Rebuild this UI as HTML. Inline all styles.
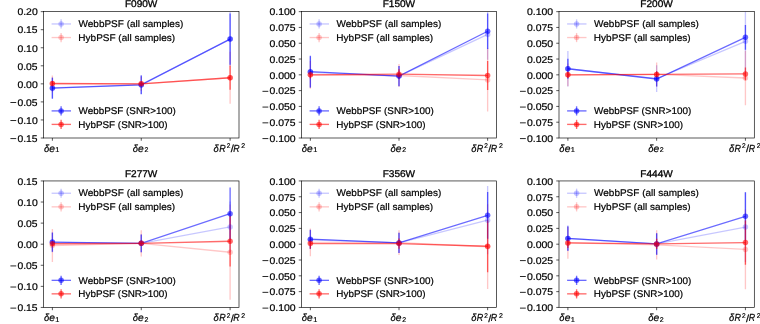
<!DOCTYPE html>
<html><head><meta charset="utf-8"><style>
html,body{margin:0;padding:0;background:#fff;}
#w{will-change:transform;width:760px;height:324px;background:#fff;}
svg{display:block;}
text{font-family:"Liberation Sans",sans-serif;fill:#000;text-rendering:geometricPrecision;stroke:#000;stroke-width:0.2px;}
.tk{stroke:#000;stroke-width:0.65;}
</style></head><body>
<div id="w"><svg width="760" height="324" viewBox="0 0 760 324">
<rect width="760" height="324" fill="#fff"/>
<g>
<text x="124.94" y="6.90" font-size="9.7" textLength="32.44" lengthAdjust="spacingAndGlyphs" style="stroke-width:0.3px">F090W</text>
<line x1="40.75" y1="11.65" x2="43.50" y2="11.65" class="tk"/>
<text x="17.40" y="15.43" font-size="9.7" textLength="20.29" lengthAdjust="spacingAndGlyphs">0.20</text>
<line x1="40.75" y1="29.70" x2="43.50" y2="29.70" class="tk"/>
<text x="17.40" y="33.48" font-size="9.7" textLength="20.12" lengthAdjust="spacingAndGlyphs">0.15</text>
<line x1="40.75" y1="47.75" x2="43.50" y2="47.75" class="tk"/>
<text x="17.40" y="51.53" font-size="9.7" textLength="20.29" lengthAdjust="spacingAndGlyphs">0.10</text>
<line x1="40.75" y1="65.80" x2="43.50" y2="65.80" class="tk"/>
<text x="17.40" y="69.58" font-size="9.7" textLength="20.12" lengthAdjust="spacingAndGlyphs">0.05</text>
<line x1="40.75" y1="83.85" x2="43.50" y2="83.85" class="tk"/>
<text x="17.40" y="87.63" font-size="9.7" textLength="20.29" lengthAdjust="spacingAndGlyphs">0.00</text>
<line x1="40.75" y1="101.90" x2="43.50" y2="101.90" class="tk"/>
<rect x="10.39" y="102.13" width="5.82" height="0.84" fill="#000"/>
<text x="17.40" y="105.68" font-size="9.7" textLength="20.12" lengthAdjust="spacingAndGlyphs">0.05</text>
<line x1="40.75" y1="119.95" x2="43.50" y2="119.95" class="tk"/>
<rect x="10.39" y="120.18" width="5.82" height="0.84" fill="#000"/>
<text x="17.40" y="123.73" font-size="9.7" textLength="20.29" lengthAdjust="spacingAndGlyphs">0.10</text>
<line x1="40.75" y1="138.00" x2="43.50" y2="138.00" class="tk"/>
<rect x="10.39" y="138.23" width="5.82" height="0.84" fill="#000"/>
<text x="17.40" y="141.78" font-size="9.7" textLength="20.12" lengthAdjust="spacingAndGlyphs">0.15</text>
<line x1="52.39" y1="138.00" x2="52.39" y2="140.75" class="tk"/>
<line x1="141.25" y1="138.00" x2="141.25" y2="140.75" class="tk"/>
<line x1="230.11" y1="138.00" x2="230.11" y2="140.75" class="tk"/>
<text x="43.88" y="151.60" font-size="10.30" font-style="italic" textLength="5.22" lengthAdjust="spacingAndGlyphs">δ</text>
<text x="49.14" y="151.60" font-size="10.30" font-style="italic" textLength="5.73" lengthAdjust="spacingAndGlyphs">e</text>
<text x="55.32" y="152.40" font-size="7.00" textLength="4.13" lengthAdjust="spacingAndGlyphs">1</text>
<text x="132.74" y="151.60" font-size="10.30" font-style="italic" textLength="5.22" lengthAdjust="spacingAndGlyphs">δ</text>
<text x="138.00" y="151.60" font-size="10.30" font-style="italic" textLength="5.73" lengthAdjust="spacingAndGlyphs">e</text>
<text x="144.40" y="152.40" font-size="7.00" textLength="3.91" lengthAdjust="spacingAndGlyphs">2</text>
<text x="213.61" y="152.00" font-size="10.30" font-style="italic" textLength="5.22" lengthAdjust="spacingAndGlyphs">δ</text>
<text x="219.14" y="152.00" font-size="10.30" font-style="italic" textLength="6.45" lengthAdjust="spacingAndGlyphs">R</text>
<text x="226.68" y="148.40" font-size="7.00" textLength="3.66" lengthAdjust="spacingAndGlyphs">2</text>
<text x="230.81" y="152.40" font-size="10.30" textLength="3.10" lengthAdjust="spacingAndGlyphs">/</text>
<text x="233.34" y="152.00" font-size="10.30" font-style="italic" textLength="6.34" lengthAdjust="spacingAndGlyphs">R</text>
<text x="241.36" y="148.40" font-size="7.00" textLength="3.91" lengthAdjust="spacingAndGlyphs">2</text>
<svg x="43.5" y="11.65" width="195.5" height="126.35" overflow="hidden"><g transform="translate(-43.5,-11.65)">
<line x1="52.39" y1="77.35" x2="52.39" y2="98.29" stroke="#0000ff" stroke-opacity="0.22" stroke-width="1.35"/>
<line x1="141.25" y1="75.19" x2="141.25" y2="93.96" stroke="#0000ff" stroke-opacity="0.22" stroke-width="1.35"/>
<line x1="230.11" y1="12.01" x2="230.11" y2="66.16" stroke="#0000ff" stroke-opacity="0.22" stroke-width="1.35"/>
<line x1="52.39" y1="75.55" x2="52.39" y2="92.15" stroke="#ff0000" stroke-opacity="0.22" stroke-width="1.35"/>
<line x1="141.25" y1="76.63" x2="141.25" y2="91.07" stroke="#ff0000" stroke-opacity="0.22" stroke-width="1.35"/>
<line x1="230.11" y1="51.72" x2="230.11" y2="103.71" stroke="#ff0000" stroke-opacity="0.22" stroke-width="1.35"/>
<line x1="52.39" y1="77.71" x2="52.39" y2="98.65" stroke="#0000ff" stroke-opacity="0.58" stroke-width="1.35"/>
<line x1="141.25" y1="75.55" x2="141.25" y2="94.32" stroke="#0000ff" stroke-opacity="0.58" stroke-width="1.35"/>
<line x1="230.11" y1="13.46" x2="230.11" y2="64.72" stroke="#0000ff" stroke-opacity="0.58" stroke-width="1.35"/>
<line x1="52.39" y1="81.32" x2="52.39" y2="85.66" stroke="#ff0000" stroke-opacity="0.58" stroke-width="1.35"/>
<line x1="141.25" y1="81.68" x2="141.25" y2="86.02" stroke="#ff0000" stroke-opacity="0.58" stroke-width="1.35"/>
<line x1="230.11" y1="65.80" x2="230.11" y2="89.63" stroke="#ff0000" stroke-opacity="0.58" stroke-width="1.35"/>
<polyline points="52.39,87.82 141.25,84.57 230.11,39.09" fill="none" stroke="#0000ff" stroke-opacity="0.22" stroke-width="1.35"/>
<circle cx="52.39" cy="87.82" r="2.75" fill="#0000ff" fill-opacity="0.22"/>
<circle cx="141.25" cy="84.57" r="2.75" fill="#0000ff" fill-opacity="0.22"/>
<circle cx="230.11" cy="39.09" r="2.75" fill="#0000ff" fill-opacity="0.22"/>
<polyline points="52.39,83.85 141.25,83.85 230.11,77.71" fill="none" stroke="#ff0000" stroke-opacity="0.22" stroke-width="1.35"/>
<circle cx="52.39" cy="83.85" r="2.75" fill="#ff0000" fill-opacity="0.22"/>
<circle cx="141.25" cy="83.85" r="2.75" fill="#ff0000" fill-opacity="0.22"/>
<circle cx="230.11" cy="77.71" r="2.75" fill="#ff0000" fill-opacity="0.22"/>
<polyline points="52.39,88.18 141.25,84.93 230.11,39.09" fill="none" stroke="#0000ff" stroke-opacity="0.58" stroke-width="1.35"/>
<circle cx="52.39" cy="88.18" r="2.75" fill="#0000ff" fill-opacity="0.58"/>
<circle cx="141.25" cy="84.93" r="2.75" fill="#0000ff" fill-opacity="0.58"/>
<circle cx="230.11" cy="39.09" r="2.75" fill="#0000ff" fill-opacity="0.58"/>
<polyline points="52.39,83.49 141.25,83.85 230.11,77.71" fill="none" stroke="#ff0000" stroke-opacity="0.58" stroke-width="1.35"/>
<circle cx="52.39" cy="83.49" r="2.75" fill="#ff0000" fill-opacity="0.58"/>
<circle cx="141.25" cy="83.85" r="2.75" fill="#ff0000" fill-opacity="0.58"/>
<circle cx="230.11" cy="77.71" r="2.75" fill="#ff0000" fill-opacity="0.58"/>
</g></svg>
<line x1="51.60" y1="23.95" x2="71.00" y2="23.95" stroke="#0000ff" stroke-opacity="0.22" stroke-width="1.35"/>
<line x1="61.10" y1="19.35" x2="61.10" y2="28.55" stroke="#0000ff" stroke-opacity="0.22" stroke-width="1.35"/>
<circle cx="61.10" cy="23.95" r="2.75" fill="#0000ff" fill-opacity="0.22"/>
<text x="78.56" y="27.15" font-size="9.7" textLength="104.70" lengthAdjust="spacingAndGlyphs">WebbPSF (all samples)</text>
<line x1="51.60" y1="37.55" x2="71.00" y2="37.55" stroke="#ff0000" stroke-opacity="0.22" stroke-width="1.35"/>
<line x1="61.10" y1="32.95" x2="61.10" y2="42.15" stroke="#ff0000" stroke-opacity="0.22" stroke-width="1.35"/>
<circle cx="61.10" cy="37.55" r="2.75" fill="#ff0000" fill-opacity="0.22"/>
<text x="78.38" y="40.75" font-size="9.7" textLength="96.65" lengthAdjust="spacingAndGlyphs">HybPSF (all samples)</text>
<line x1="51.60" y1="110.90" x2="71.00" y2="110.90" stroke="#0000ff" stroke-opacity="0.58" stroke-width="1.35"/>
<line x1="61.10" y1="106.30" x2="61.10" y2="115.50" stroke="#0000ff" stroke-opacity="0.58" stroke-width="1.35"/>
<circle cx="61.10" cy="110.90" r="2.75" fill="#0000ff" fill-opacity="0.58"/>
<text x="78.56" y="114.10" font-size="9.7" textLength="97.16" lengthAdjust="spacingAndGlyphs">WebbPSF (SNR&gt;100)</text>
<line x1="51.60" y1="124.40" x2="71.00" y2="124.40" stroke="#ff0000" stroke-opacity="0.58" stroke-width="1.35"/>
<line x1="61.10" y1="119.80" x2="61.10" y2="129.00" stroke="#ff0000" stroke-opacity="0.58" stroke-width="1.35"/>
<circle cx="61.10" cy="124.40" r="2.75" fill="#ff0000" fill-opacity="0.58"/>
<text x="78.39" y="127.60" font-size="9.7" textLength="89.10" lengthAdjust="spacingAndGlyphs">HybPSF (SNR&gt;100)</text>
<rect x="43.50" y="11.65" width="195.50" height="126.35" fill="none" stroke="#000" stroke-width="0.65"/>
</g>
<g>
<text x="382.69" y="6.90" font-size="9.7" textLength="32.44" lengthAdjust="spacingAndGlyphs" style="stroke-width:0.3px">F150W</text>
<line x1="298.75" y1="11.65" x2="301.50" y2="11.65" class="tk"/>
<text x="269.48" y="15.43" font-size="9.7" textLength="26.21" lengthAdjust="spacingAndGlyphs">0.100</text>
<line x1="298.75" y1="27.44" x2="301.50" y2="27.44" class="tk"/>
<text x="269.48" y="31.22" font-size="9.7" textLength="26.04" lengthAdjust="spacingAndGlyphs">0.075</text>
<line x1="298.75" y1="43.24" x2="301.50" y2="43.24" class="tk"/>
<text x="269.48" y="47.02" font-size="9.7" textLength="26.21" lengthAdjust="spacingAndGlyphs">0.050</text>
<line x1="298.75" y1="59.03" x2="301.50" y2="59.03" class="tk"/>
<text x="269.48" y="62.81" font-size="9.7" textLength="26.04" lengthAdjust="spacingAndGlyphs">0.025</text>
<line x1="298.75" y1="74.83" x2="301.50" y2="74.83" class="tk"/>
<text x="269.48" y="78.61" font-size="9.7" textLength="26.21" lengthAdjust="spacingAndGlyphs">0.000</text>
<line x1="298.75" y1="90.62" x2="301.50" y2="90.62" class="tk"/>
<rect x="262.47" y="90.85" width="5.82" height="0.84" fill="#000"/>
<text x="269.48" y="94.40" font-size="9.7" textLength="26.04" lengthAdjust="spacingAndGlyphs">0.025</text>
<line x1="298.75" y1="106.41" x2="301.50" y2="106.41" class="tk"/>
<rect x="262.47" y="106.64" width="5.82" height="0.84" fill="#000"/>
<text x="269.48" y="110.19" font-size="9.7" textLength="26.21" lengthAdjust="spacingAndGlyphs">0.050</text>
<line x1="298.75" y1="122.21" x2="301.50" y2="122.21" class="tk"/>
<rect x="262.47" y="122.44" width="5.82" height="0.84" fill="#000"/>
<text x="269.48" y="125.99" font-size="9.7" textLength="26.04" lengthAdjust="spacingAndGlyphs">0.075</text>
<line x1="298.75" y1="138.00" x2="301.50" y2="138.00" class="tk"/>
<rect x="262.47" y="138.23" width="5.82" height="0.84" fill="#000"/>
<text x="269.48" y="141.78" font-size="9.7" textLength="26.21" lengthAdjust="spacingAndGlyphs">0.100</text>
<line x1="310.36" y1="138.00" x2="310.36" y2="140.75" class="tk"/>
<line x1="399.00" y1="138.00" x2="399.00" y2="140.75" class="tk"/>
<line x1="487.64" y1="138.00" x2="487.64" y2="140.75" class="tk"/>
<text x="301.86" y="151.60" font-size="10.30" font-style="italic" textLength="5.22" lengthAdjust="spacingAndGlyphs">δ</text>
<text x="307.12" y="151.60" font-size="10.30" font-style="italic" textLength="5.73" lengthAdjust="spacingAndGlyphs">e</text>
<text x="313.30" y="152.40" font-size="7.00" textLength="4.13" lengthAdjust="spacingAndGlyphs">1</text>
<text x="390.49" y="151.60" font-size="10.30" font-style="italic" textLength="5.22" lengthAdjust="spacingAndGlyphs">δ</text>
<text x="395.75" y="151.60" font-size="10.30" font-style="italic" textLength="5.73" lengthAdjust="spacingAndGlyphs">e</text>
<text x="402.15" y="152.40" font-size="7.00" textLength="3.91" lengthAdjust="spacingAndGlyphs">2</text>
<text x="471.13" y="152.00" font-size="10.30" font-style="italic" textLength="5.22" lengthAdjust="spacingAndGlyphs">δ</text>
<text x="476.66" y="152.00" font-size="10.30" font-style="italic" textLength="6.45" lengthAdjust="spacingAndGlyphs">R</text>
<text x="484.21" y="148.40" font-size="7.00" textLength="3.66" lengthAdjust="spacingAndGlyphs">2</text>
<text x="488.34" y="152.40" font-size="10.30" textLength="3.10" lengthAdjust="spacingAndGlyphs">/</text>
<text x="490.87" y="152.00" font-size="10.30" font-style="italic" textLength="6.34" lengthAdjust="spacingAndGlyphs">R</text>
<text x="498.88" y="148.40" font-size="7.00" textLength="3.91" lengthAdjust="spacingAndGlyphs">2</text>
<svg x="301.5" y="11.65" width="195.0" height="126.35" overflow="hidden"><g transform="translate(-301.5,-11.65)">
<line x1="310.36" y1="56.50" x2="310.36" y2="88.09" stroke="#0000ff" stroke-opacity="0.22" stroke-width="1.35"/>
<line x1="399.00" y1="65.98" x2="399.00" y2="86.20" stroke="#0000ff" stroke-opacity="0.22" stroke-width="1.35"/>
<line x1="487.64" y1="9.12" x2="487.64" y2="59.66" stroke="#0000ff" stroke-opacity="0.22" stroke-width="1.35"/>
<line x1="310.36" y1="60.93" x2="310.36" y2="88.72" stroke="#ff0000" stroke-opacity="0.22" stroke-width="1.35"/>
<line x1="399.00" y1="64.09" x2="399.00" y2="86.83" stroke="#ff0000" stroke-opacity="0.22" stroke-width="1.35"/>
<line x1="487.64" y1="48.29" x2="487.64" y2="111.47" stroke="#ff0000" stroke-opacity="0.22" stroke-width="1.35"/>
<line x1="310.36" y1="55.87" x2="310.36" y2="87.46" stroke="#0000ff" stroke-opacity="0.58" stroke-width="1.35"/>
<line x1="399.00" y1="65.98" x2="399.00" y2="86.20" stroke="#0000ff" stroke-opacity="0.58" stroke-width="1.35"/>
<line x1="487.64" y1="13.55" x2="487.64" y2="48.92" stroke="#0000ff" stroke-opacity="0.58" stroke-width="1.35"/>
<line x1="310.36" y1="71.03" x2="310.36" y2="78.62" stroke="#ff0000" stroke-opacity="0.58" stroke-width="1.35"/>
<line x1="399.00" y1="69.14" x2="399.00" y2="79.25" stroke="#ff0000" stroke-opacity="0.58" stroke-width="1.35"/>
<line x1="487.64" y1="60.93" x2="487.64" y2="89.99" stroke="#ff0000" stroke-opacity="0.58" stroke-width="1.35"/>
<polyline points="310.36,72.30 399.00,76.09 487.64,34.39" fill="none" stroke="#0000ff" stroke-opacity="0.22" stroke-width="1.35"/>
<circle cx="310.36" cy="72.30" r="2.75" fill="#0000ff" fill-opacity="0.22"/>
<circle cx="399.00" cy="76.09" r="2.75" fill="#0000ff" fill-opacity="0.22"/>
<circle cx="487.64" cy="34.39" r="2.75" fill="#0000ff" fill-opacity="0.22"/>
<polyline points="310.36,74.83 399.00,75.46 487.64,79.88" fill="none" stroke="#ff0000" stroke-opacity="0.22" stroke-width="1.35"/>
<circle cx="310.36" cy="74.83" r="2.75" fill="#ff0000" fill-opacity="0.22"/>
<circle cx="399.00" cy="75.46" r="2.75" fill="#ff0000" fill-opacity="0.22"/>
<circle cx="487.64" cy="79.88" r="2.75" fill="#ff0000" fill-opacity="0.22"/>
<polyline points="310.36,71.67 399.00,76.09 487.64,31.23" fill="none" stroke="#0000ff" stroke-opacity="0.58" stroke-width="1.35"/>
<circle cx="310.36" cy="71.67" r="2.75" fill="#0000ff" fill-opacity="0.58"/>
<circle cx="399.00" cy="76.09" r="2.75" fill="#0000ff" fill-opacity="0.58"/>
<circle cx="487.64" cy="31.23" r="2.75" fill="#0000ff" fill-opacity="0.58"/>
<polyline points="310.36,74.83 399.00,74.19 487.64,75.46" fill="none" stroke="#ff0000" stroke-opacity="0.58" stroke-width="1.35"/>
<circle cx="310.36" cy="74.83" r="2.75" fill="#ff0000" fill-opacity="0.58"/>
<circle cx="399.00" cy="74.19" r="2.75" fill="#ff0000" fill-opacity="0.58"/>
<circle cx="487.64" cy="75.46" r="2.75" fill="#ff0000" fill-opacity="0.58"/>
</g></svg>
<line x1="309.60" y1="23.95" x2="329.00" y2="23.95" stroke="#0000ff" stroke-opacity="0.22" stroke-width="1.35"/>
<line x1="319.10" y1="19.35" x2="319.10" y2="28.55" stroke="#0000ff" stroke-opacity="0.22" stroke-width="1.35"/>
<circle cx="319.10" cy="23.95" r="2.75" fill="#0000ff" fill-opacity="0.22"/>
<text x="336.56" y="27.15" font-size="9.7" textLength="104.70" lengthAdjust="spacingAndGlyphs">WebbPSF (all samples)</text>
<line x1="309.60" y1="37.55" x2="329.00" y2="37.55" stroke="#ff0000" stroke-opacity="0.22" stroke-width="1.35"/>
<line x1="319.10" y1="32.95" x2="319.10" y2="42.15" stroke="#ff0000" stroke-opacity="0.22" stroke-width="1.35"/>
<circle cx="319.10" cy="37.55" r="2.75" fill="#ff0000" fill-opacity="0.22"/>
<text x="336.38" y="40.75" font-size="9.7" textLength="96.65" lengthAdjust="spacingAndGlyphs">HybPSF (all samples)</text>
<line x1="309.60" y1="110.90" x2="329.00" y2="110.90" stroke="#0000ff" stroke-opacity="0.58" stroke-width="1.35"/>
<line x1="319.10" y1="106.30" x2="319.10" y2="115.50" stroke="#0000ff" stroke-opacity="0.58" stroke-width="1.35"/>
<circle cx="319.10" cy="110.90" r="2.75" fill="#0000ff" fill-opacity="0.58"/>
<text x="336.56" y="114.10" font-size="9.7" textLength="97.16" lengthAdjust="spacingAndGlyphs">WebbPSF (SNR&gt;100)</text>
<line x1="309.60" y1="124.40" x2="329.00" y2="124.40" stroke="#ff0000" stroke-opacity="0.58" stroke-width="1.35"/>
<line x1="319.10" y1="119.80" x2="319.10" y2="129.00" stroke="#ff0000" stroke-opacity="0.58" stroke-width="1.35"/>
<circle cx="319.10" cy="124.40" r="2.75" fill="#ff0000" fill-opacity="0.58"/>
<text x="336.39" y="127.60" font-size="9.7" textLength="89.10" lengthAdjust="spacingAndGlyphs">HybPSF (SNR&gt;100)</text>
<rect x="301.50" y="11.65" width="195.00" height="126.35" fill="none" stroke="#000" stroke-width="0.65"/>
</g>
<g>
<text x="640.34" y="6.90" font-size="9.7" textLength="32.44" lengthAdjust="spacingAndGlyphs" style="stroke-width:0.3px">F200W</text>
<line x1="556.25" y1="11.65" x2="559.00" y2="11.65" class="tk"/>
<text x="526.98" y="15.43" font-size="9.7" textLength="26.21" lengthAdjust="spacingAndGlyphs">0.100</text>
<line x1="556.25" y1="27.44" x2="559.00" y2="27.44" class="tk"/>
<text x="526.98" y="31.22" font-size="9.7" textLength="26.04" lengthAdjust="spacingAndGlyphs">0.075</text>
<line x1="556.25" y1="43.24" x2="559.00" y2="43.24" class="tk"/>
<text x="526.98" y="47.02" font-size="9.7" textLength="26.21" lengthAdjust="spacingAndGlyphs">0.050</text>
<line x1="556.25" y1="59.03" x2="559.00" y2="59.03" class="tk"/>
<text x="526.98" y="62.81" font-size="9.7" textLength="26.04" lengthAdjust="spacingAndGlyphs">0.025</text>
<line x1="556.25" y1="74.83" x2="559.00" y2="74.83" class="tk"/>
<text x="526.98" y="78.61" font-size="9.7" textLength="26.21" lengthAdjust="spacingAndGlyphs">0.000</text>
<line x1="556.25" y1="90.62" x2="559.00" y2="90.62" class="tk"/>
<rect x="519.97" y="90.85" width="5.82" height="0.84" fill="#000"/>
<text x="526.98" y="94.40" font-size="9.7" textLength="26.04" lengthAdjust="spacingAndGlyphs">0.025</text>
<line x1="556.25" y1="106.41" x2="559.00" y2="106.41" class="tk"/>
<rect x="519.97" y="106.64" width="5.82" height="0.84" fill="#000"/>
<text x="526.98" y="110.19" font-size="9.7" textLength="26.21" lengthAdjust="spacingAndGlyphs">0.050</text>
<line x1="556.25" y1="122.21" x2="559.00" y2="122.21" class="tk"/>
<rect x="519.97" y="122.44" width="5.82" height="0.84" fill="#000"/>
<text x="526.98" y="125.99" font-size="9.7" textLength="26.04" lengthAdjust="spacingAndGlyphs">0.075</text>
<line x1="556.25" y1="138.00" x2="559.00" y2="138.00" class="tk"/>
<rect x="519.97" y="138.23" width="5.82" height="0.84" fill="#000"/>
<text x="526.98" y="141.78" font-size="9.7" textLength="26.21" lengthAdjust="spacingAndGlyphs">0.100</text>
<line x1="567.88" y1="138.00" x2="567.88" y2="140.75" class="tk"/>
<line x1="656.65" y1="138.00" x2="656.65" y2="140.75" class="tk"/>
<line x1="745.42" y1="138.00" x2="745.42" y2="140.75" class="tk"/>
<text x="559.37" y="151.60" font-size="10.30" font-style="italic" textLength="5.22" lengthAdjust="spacingAndGlyphs">δ</text>
<text x="564.63" y="151.60" font-size="10.30" font-style="italic" textLength="5.73" lengthAdjust="spacingAndGlyphs">e</text>
<text x="570.81" y="152.40" font-size="7.00" textLength="4.13" lengthAdjust="spacingAndGlyphs">1</text>
<text x="648.14" y="151.60" font-size="10.30" font-style="italic" textLength="5.22" lengthAdjust="spacingAndGlyphs">δ</text>
<text x="653.40" y="151.60" font-size="10.30" font-style="italic" textLength="5.73" lengthAdjust="spacingAndGlyphs">e</text>
<text x="659.80" y="152.40" font-size="7.00" textLength="3.91" lengthAdjust="spacingAndGlyphs">2</text>
<text x="728.92" y="152.00" font-size="10.30" font-style="italic" textLength="5.22" lengthAdjust="spacingAndGlyphs">δ</text>
<text x="734.45" y="152.00" font-size="10.30" font-style="italic" textLength="6.45" lengthAdjust="spacingAndGlyphs">R</text>
<text x="741.99" y="148.40" font-size="7.00" textLength="3.66" lengthAdjust="spacingAndGlyphs">2</text>
<text x="746.12" y="152.40" font-size="10.30" textLength="3.10" lengthAdjust="spacingAndGlyphs">/</text>
<text x="748.65" y="152.00" font-size="10.30" font-style="italic" textLength="6.34" lengthAdjust="spacingAndGlyphs">R</text>
<text x="756.67" y="148.40" font-size="7.00" textLength="3.91" lengthAdjust="spacingAndGlyphs">2</text>
<svg x="559.0" y="11.65" width="195.29999999999995" height="126.35" overflow="hidden"><g transform="translate(-559.0,-11.65)">
<line x1="567.88" y1="51.07" x2="567.88" y2="86.45" stroke="#0000ff" stroke-opacity="0.22" stroke-width="1.35"/>
<line x1="656.65" y1="65.35" x2="656.65" y2="91.88" stroke="#0000ff" stroke-opacity="0.22" stroke-width="1.35"/>
<line x1="745.42" y1="9.75" x2="745.42" y2="72.93" stroke="#0000ff" stroke-opacity="0.22" stroke-width="1.35"/>
<line x1="567.88" y1="63.45" x2="567.88" y2="86.20" stroke="#ff0000" stroke-opacity="0.22" stroke-width="1.35"/>
<line x1="656.65" y1="62.38" x2="656.65" y2="86.39" stroke="#ff0000" stroke-opacity="0.22" stroke-width="1.35"/>
<line x1="745.42" y1="50.82" x2="745.42" y2="105.15" stroke="#ff0000" stroke-opacity="0.22" stroke-width="1.35"/>
<line x1="567.88" y1="58.65" x2="567.88" y2="78.87" stroke="#0000ff" stroke-opacity="0.58" stroke-width="1.35"/>
<line x1="656.65" y1="71.41" x2="656.65" y2="86.58" stroke="#0000ff" stroke-opacity="0.58" stroke-width="1.35"/>
<line x1="745.42" y1="24.92" x2="745.42" y2="49.68" stroke="#0000ff" stroke-opacity="0.58" stroke-width="1.35"/>
<line x1="567.88" y1="71.67" x2="567.88" y2="77.98" stroke="#ff0000" stroke-opacity="0.58" stroke-width="1.35"/>
<line x1="656.65" y1="71.22" x2="656.65" y2="77.54" stroke="#ff0000" stroke-opacity="0.58" stroke-width="1.35"/>
<line x1="745.42" y1="67.56" x2="745.42" y2="80.19" stroke="#ff0000" stroke-opacity="0.58" stroke-width="1.35"/>
<polyline points="567.88,68.76 656.65,78.62 745.42,41.34" fill="none" stroke="#0000ff" stroke-opacity="0.22" stroke-width="1.35"/>
<circle cx="567.88" cy="68.76" r="2.75" fill="#0000ff" fill-opacity="0.22"/>
<circle cx="656.65" cy="78.62" r="2.75" fill="#0000ff" fill-opacity="0.22"/>
<circle cx="745.42" cy="41.34" r="2.75" fill="#0000ff" fill-opacity="0.22"/>
<polyline points="567.88,74.83 656.65,74.38 745.42,77.98" fill="none" stroke="#ff0000" stroke-opacity="0.22" stroke-width="1.35"/>
<circle cx="567.88" cy="74.83" r="2.75" fill="#ff0000" fill-opacity="0.22"/>
<circle cx="656.65" cy="74.38" r="2.75" fill="#ff0000" fill-opacity="0.22"/>
<circle cx="745.42" cy="77.98" r="2.75" fill="#ff0000" fill-opacity="0.22"/>
<polyline points="567.88,68.76 656.65,78.99 745.42,37.30" fill="none" stroke="#0000ff" stroke-opacity="0.58" stroke-width="1.35"/>
<circle cx="567.88" cy="68.76" r="2.75" fill="#0000ff" fill-opacity="0.58"/>
<circle cx="656.65" cy="78.99" r="2.75" fill="#0000ff" fill-opacity="0.58"/>
<circle cx="745.42" cy="37.30" r="2.75" fill="#0000ff" fill-opacity="0.58"/>
<polyline points="567.88,74.83 656.65,74.38 745.42,73.88" fill="none" stroke="#ff0000" stroke-opacity="0.58" stroke-width="1.35"/>
<circle cx="567.88" cy="74.83" r="2.75" fill="#ff0000" fill-opacity="0.58"/>
<circle cx="656.65" cy="74.38" r="2.75" fill="#ff0000" fill-opacity="0.58"/>
<circle cx="745.42" cy="73.88" r="2.75" fill="#ff0000" fill-opacity="0.58"/>
</g></svg>
<line x1="567.10" y1="23.95" x2="586.50" y2="23.95" stroke="#0000ff" stroke-opacity="0.22" stroke-width="1.35"/>
<line x1="576.60" y1="19.35" x2="576.60" y2="28.55" stroke="#0000ff" stroke-opacity="0.22" stroke-width="1.35"/>
<circle cx="576.60" cy="23.95" r="2.75" fill="#0000ff" fill-opacity="0.22"/>
<text x="594.06" y="27.15" font-size="9.7" textLength="104.70" lengthAdjust="spacingAndGlyphs">WebbPSF (all samples)</text>
<line x1="567.10" y1="37.55" x2="586.50" y2="37.55" stroke="#ff0000" stroke-opacity="0.22" stroke-width="1.35"/>
<line x1="576.60" y1="32.95" x2="576.60" y2="42.15" stroke="#ff0000" stroke-opacity="0.22" stroke-width="1.35"/>
<circle cx="576.60" cy="37.55" r="2.75" fill="#ff0000" fill-opacity="0.22"/>
<text x="593.88" y="40.75" font-size="9.7" textLength="96.65" lengthAdjust="spacingAndGlyphs">HybPSF (all samples)</text>
<line x1="567.10" y1="110.90" x2="586.50" y2="110.90" stroke="#0000ff" stroke-opacity="0.58" stroke-width="1.35"/>
<line x1="576.60" y1="106.30" x2="576.60" y2="115.50" stroke="#0000ff" stroke-opacity="0.58" stroke-width="1.35"/>
<circle cx="576.60" cy="110.90" r="2.75" fill="#0000ff" fill-opacity="0.58"/>
<text x="594.06" y="114.10" font-size="9.7" textLength="97.16" lengthAdjust="spacingAndGlyphs">WebbPSF (SNR&gt;100)</text>
<line x1="567.10" y1="124.40" x2="586.50" y2="124.40" stroke="#ff0000" stroke-opacity="0.58" stroke-width="1.35"/>
<line x1="576.60" y1="119.80" x2="576.60" y2="129.00" stroke="#ff0000" stroke-opacity="0.58" stroke-width="1.35"/>
<circle cx="576.60" cy="124.40" r="2.75" fill="#ff0000" fill-opacity="0.58"/>
<text x="593.89" y="127.60" font-size="9.7" textLength="89.10" lengthAdjust="spacingAndGlyphs">HybPSF (SNR&gt;100)</text>
<rect x="559.00" y="11.65" width="195.30" height="126.35" fill="none" stroke="#000" stroke-width="0.65"/>
</g>
<g>
<text x="124.94" y="176.50" font-size="9.7" textLength="32.44" lengthAdjust="spacingAndGlyphs" style="stroke-width:0.3px">F277W</text>
<line x1="40.75" y1="180.95" x2="43.50" y2="180.95" class="tk"/>
<text x="17.40" y="184.73" font-size="9.7" textLength="20.12" lengthAdjust="spacingAndGlyphs">0.15</text>
<line x1="40.75" y1="202.03" x2="43.50" y2="202.03" class="tk"/>
<text x="17.40" y="205.81" font-size="9.7" textLength="20.29" lengthAdjust="spacingAndGlyphs">0.10</text>
<line x1="40.75" y1="223.12" x2="43.50" y2="223.12" class="tk"/>
<text x="17.40" y="226.90" font-size="9.7" textLength="20.12" lengthAdjust="spacingAndGlyphs">0.05</text>
<line x1="40.75" y1="244.20" x2="43.50" y2="244.20" class="tk"/>
<text x="17.40" y="247.98" font-size="9.7" textLength="20.29" lengthAdjust="spacingAndGlyphs">0.00</text>
<line x1="40.75" y1="265.28" x2="43.50" y2="265.28" class="tk"/>
<rect x="10.39" y="265.51" width="5.82" height="0.84" fill="#000"/>
<text x="17.40" y="269.06" font-size="9.7" textLength="20.12" lengthAdjust="spacingAndGlyphs">0.05</text>
<line x1="40.75" y1="286.37" x2="43.50" y2="286.37" class="tk"/>
<rect x="10.39" y="286.60" width="5.82" height="0.84" fill="#000"/>
<text x="17.40" y="290.15" font-size="9.7" textLength="20.29" lengthAdjust="spacingAndGlyphs">0.10</text>
<line x1="40.75" y1="307.45" x2="43.50" y2="307.45" class="tk"/>
<rect x="10.39" y="307.68" width="5.82" height="0.84" fill="#000"/>
<text x="17.40" y="311.23" font-size="9.7" textLength="20.12" lengthAdjust="spacingAndGlyphs">0.15</text>
<line x1="52.39" y1="307.45" x2="52.39" y2="310.20" class="tk"/>
<line x1="141.25" y1="307.45" x2="141.25" y2="310.20" class="tk"/>
<line x1="230.11" y1="307.45" x2="230.11" y2="310.20" class="tk"/>
<text x="43.88" y="321.05" font-size="10.30" font-style="italic" textLength="5.22" lengthAdjust="spacingAndGlyphs">δ</text>
<text x="49.14" y="321.05" font-size="10.30" font-style="italic" textLength="5.73" lengthAdjust="spacingAndGlyphs">e</text>
<text x="55.32" y="321.85" font-size="7.00" textLength="4.13" lengthAdjust="spacingAndGlyphs">1</text>
<text x="132.74" y="321.05" font-size="10.30" font-style="italic" textLength="5.22" lengthAdjust="spacingAndGlyphs">δ</text>
<text x="138.00" y="321.05" font-size="10.30" font-style="italic" textLength="5.73" lengthAdjust="spacingAndGlyphs">e</text>
<text x="144.40" y="321.85" font-size="7.00" textLength="3.91" lengthAdjust="spacingAndGlyphs">2</text>
<text x="213.61" y="321.45" font-size="10.30" font-style="italic" textLength="5.22" lengthAdjust="spacingAndGlyphs">δ</text>
<text x="219.14" y="321.45" font-size="10.30" font-style="italic" textLength="6.45" lengthAdjust="spacingAndGlyphs">R</text>
<text x="226.68" y="317.85" font-size="7.00" textLength="3.66" lengthAdjust="spacingAndGlyphs">2</text>
<text x="230.81" y="321.85" font-size="10.30" textLength="3.10" lengthAdjust="spacingAndGlyphs">/</text>
<text x="233.34" y="321.45" font-size="10.30" font-style="italic" textLength="6.34" lengthAdjust="spacingAndGlyphs">R</text>
<text x="241.36" y="317.85" font-size="7.00" textLength="3.91" lengthAdjust="spacingAndGlyphs">2</text>
<svg x="43.5" y="180.95" width="195.5" height="126.5" overflow="hidden"><g transform="translate(-43.5,-180.95)">
<line x1="52.39" y1="232.81" x2="52.39" y2="252.21" stroke="#0000ff" stroke-opacity="0.22" stroke-width="1.35"/>
<line x1="141.25" y1="234.50" x2="141.25" y2="252.21" stroke="#0000ff" stroke-opacity="0.22" stroke-width="1.35"/>
<line x1="230.11" y1="201.61" x2="230.11" y2="252.21" stroke="#0000ff" stroke-opacity="0.22" stroke-width="1.35"/>
<line x1="52.39" y1="229.02" x2="52.39" y2="261.91" stroke="#ff0000" stroke-opacity="0.22" stroke-width="1.35"/>
<line x1="141.25" y1="230.28" x2="141.25" y2="256.43" stroke="#ff0000" stroke-opacity="0.22" stroke-width="1.35"/>
<line x1="230.11" y1="204.56" x2="230.11" y2="299.86" stroke="#ff0000" stroke-opacity="0.22" stroke-width="1.35"/>
<line x1="52.39" y1="232.39" x2="52.39" y2="251.79" stroke="#0000ff" stroke-opacity="0.58" stroke-width="1.35"/>
<line x1="141.25" y1="234.50" x2="141.25" y2="252.21" stroke="#0000ff" stroke-opacity="0.58" stroke-width="1.35"/>
<line x1="230.11" y1="187.49" x2="230.11" y2="239.77" stroke="#0000ff" stroke-opacity="0.58" stroke-width="1.35"/>
<line x1="52.39" y1="241.25" x2="52.39" y2="246.31" stroke="#ff0000" stroke-opacity="0.58" stroke-width="1.35"/>
<line x1="141.25" y1="240.83" x2="141.25" y2="245.89" stroke="#ff0000" stroke-opacity="0.58" stroke-width="1.35"/>
<line x1="230.11" y1="215.95" x2="230.11" y2="266.55" stroke="#ff0000" stroke-opacity="0.58" stroke-width="1.35"/>
<polyline points="52.39,242.51 141.25,243.36 230.11,226.91" fill="none" stroke="#0000ff" stroke-opacity="0.22" stroke-width="1.35"/>
<circle cx="52.39" cy="242.51" r="2.75" fill="#0000ff" fill-opacity="0.22"/>
<circle cx="141.25" cy="243.36" r="2.75" fill="#0000ff" fill-opacity="0.22"/>
<circle cx="230.11" cy="226.91" r="2.75" fill="#0000ff" fill-opacity="0.22"/>
<polyline points="52.39,245.46 141.25,243.36 230.11,252.21" fill="none" stroke="#ff0000" stroke-opacity="0.22" stroke-width="1.35"/>
<circle cx="52.39" cy="245.46" r="2.75" fill="#ff0000" fill-opacity="0.22"/>
<circle cx="141.25" cy="243.36" r="2.75" fill="#ff0000" fill-opacity="0.22"/>
<circle cx="230.11" cy="252.21" r="2.75" fill="#ff0000" fill-opacity="0.22"/>
<polyline points="52.39,242.09 141.25,243.36 230.11,213.63" fill="none" stroke="#0000ff" stroke-opacity="0.58" stroke-width="1.35"/>
<circle cx="52.39" cy="242.09" r="2.75" fill="#0000ff" fill-opacity="0.58"/>
<circle cx="141.25" cy="243.36" r="2.75" fill="#0000ff" fill-opacity="0.58"/>
<circle cx="230.11" cy="213.63" r="2.75" fill="#0000ff" fill-opacity="0.58"/>
<polyline points="52.39,243.78 141.25,243.36 230.11,241.25" fill="none" stroke="#ff0000" stroke-opacity="0.58" stroke-width="1.35"/>
<circle cx="52.39" cy="243.78" r="2.75" fill="#ff0000" fill-opacity="0.58"/>
<circle cx="141.25" cy="243.36" r="2.75" fill="#ff0000" fill-opacity="0.58"/>
<circle cx="230.11" cy="241.25" r="2.75" fill="#ff0000" fill-opacity="0.58"/>
</g></svg>
<line x1="51.60" y1="193.25" x2="71.00" y2="193.25" stroke="#0000ff" stroke-opacity="0.22" stroke-width="1.35"/>
<line x1="61.10" y1="188.65" x2="61.10" y2="197.85" stroke="#0000ff" stroke-opacity="0.22" stroke-width="1.35"/>
<circle cx="61.10" cy="193.25" r="2.75" fill="#0000ff" fill-opacity="0.22"/>
<text x="78.56" y="196.45" font-size="9.7" textLength="104.70" lengthAdjust="spacingAndGlyphs">WebbPSF (all samples)</text>
<line x1="51.60" y1="206.85" x2="71.00" y2="206.85" stroke="#ff0000" stroke-opacity="0.22" stroke-width="1.35"/>
<line x1="61.10" y1="202.25" x2="61.10" y2="211.45" stroke="#ff0000" stroke-opacity="0.22" stroke-width="1.35"/>
<circle cx="61.10" cy="206.85" r="2.75" fill="#ff0000" fill-opacity="0.22"/>
<text x="78.38" y="210.05" font-size="9.7" textLength="96.65" lengthAdjust="spacingAndGlyphs">HybPSF (all samples)</text>
<line x1="51.60" y1="280.35" x2="71.00" y2="280.35" stroke="#0000ff" stroke-opacity="0.58" stroke-width="1.35"/>
<line x1="61.10" y1="275.75" x2="61.10" y2="284.95" stroke="#0000ff" stroke-opacity="0.58" stroke-width="1.35"/>
<circle cx="61.10" cy="280.35" r="2.75" fill="#0000ff" fill-opacity="0.58"/>
<text x="78.56" y="283.55" font-size="9.7" textLength="97.16" lengthAdjust="spacingAndGlyphs">WebbPSF (SNR&gt;100)</text>
<line x1="51.60" y1="293.85" x2="71.00" y2="293.85" stroke="#ff0000" stroke-opacity="0.58" stroke-width="1.35"/>
<line x1="61.10" y1="289.25" x2="61.10" y2="298.45" stroke="#ff0000" stroke-opacity="0.58" stroke-width="1.35"/>
<circle cx="61.10" cy="293.85" r="2.75" fill="#ff0000" fill-opacity="0.58"/>
<text x="78.39" y="297.05" font-size="9.7" textLength="89.10" lengthAdjust="spacingAndGlyphs">HybPSF (SNR&gt;100)</text>
<rect x="43.50" y="180.95" width="195.50" height="126.50" fill="none" stroke="#000" stroke-width="0.65"/>
</g>
<g>
<text x="382.69" y="176.50" font-size="9.7" textLength="32.44" lengthAdjust="spacingAndGlyphs" style="stroke-width:0.3px">F356W</text>
<line x1="298.75" y1="180.95" x2="301.50" y2="180.95" class="tk"/>
<text x="269.48" y="184.73" font-size="9.7" textLength="26.21" lengthAdjust="spacingAndGlyphs">0.100</text>
<line x1="298.75" y1="196.76" x2="301.50" y2="196.76" class="tk"/>
<text x="269.48" y="200.54" font-size="9.7" textLength="26.04" lengthAdjust="spacingAndGlyphs">0.075</text>
<line x1="298.75" y1="212.57" x2="301.50" y2="212.57" class="tk"/>
<text x="269.48" y="216.35" font-size="9.7" textLength="26.21" lengthAdjust="spacingAndGlyphs">0.050</text>
<line x1="298.75" y1="228.39" x2="301.50" y2="228.39" class="tk"/>
<text x="269.48" y="232.17" font-size="9.7" textLength="26.04" lengthAdjust="spacingAndGlyphs">0.025</text>
<line x1="298.75" y1="244.20" x2="301.50" y2="244.20" class="tk"/>
<text x="269.48" y="247.98" font-size="9.7" textLength="26.21" lengthAdjust="spacingAndGlyphs">0.000</text>
<line x1="298.75" y1="260.01" x2="301.50" y2="260.01" class="tk"/>
<rect x="262.47" y="260.24" width="5.82" height="0.84" fill="#000"/>
<text x="269.48" y="263.79" font-size="9.7" textLength="26.04" lengthAdjust="spacingAndGlyphs">0.025</text>
<line x1="298.75" y1="275.82" x2="301.50" y2="275.82" class="tk"/>
<rect x="262.47" y="276.05" width="5.82" height="0.84" fill="#000"/>
<text x="269.48" y="279.60" font-size="9.7" textLength="26.21" lengthAdjust="spacingAndGlyphs">0.050</text>
<line x1="298.75" y1="291.64" x2="301.50" y2="291.64" class="tk"/>
<rect x="262.47" y="291.87" width="5.82" height="0.84" fill="#000"/>
<text x="269.48" y="295.42" font-size="9.7" textLength="26.04" lengthAdjust="spacingAndGlyphs">0.075</text>
<line x1="298.75" y1="307.45" x2="301.50" y2="307.45" class="tk"/>
<rect x="262.47" y="307.68" width="5.82" height="0.84" fill="#000"/>
<text x="269.48" y="311.23" font-size="9.7" textLength="26.21" lengthAdjust="spacingAndGlyphs">0.100</text>
<line x1="310.36" y1="307.45" x2="310.36" y2="310.20" class="tk"/>
<line x1="399.00" y1="307.45" x2="399.00" y2="310.20" class="tk"/>
<line x1="487.64" y1="307.45" x2="487.64" y2="310.20" class="tk"/>
<text x="301.86" y="321.05" font-size="10.30" font-style="italic" textLength="5.22" lengthAdjust="spacingAndGlyphs">δ</text>
<text x="307.12" y="321.05" font-size="10.30" font-style="italic" textLength="5.73" lengthAdjust="spacingAndGlyphs">e</text>
<text x="313.30" y="321.85" font-size="7.00" textLength="4.13" lengthAdjust="spacingAndGlyphs">1</text>
<text x="390.49" y="321.05" font-size="10.30" font-style="italic" textLength="5.22" lengthAdjust="spacingAndGlyphs">δ</text>
<text x="395.75" y="321.05" font-size="10.30" font-style="italic" textLength="5.73" lengthAdjust="spacingAndGlyphs">e</text>
<text x="402.15" y="321.85" font-size="7.00" textLength="3.91" lengthAdjust="spacingAndGlyphs">2</text>
<text x="471.13" y="321.45" font-size="10.30" font-style="italic" textLength="5.22" lengthAdjust="spacingAndGlyphs">δ</text>
<text x="476.66" y="321.45" font-size="10.30" font-style="italic" textLength="6.45" lengthAdjust="spacingAndGlyphs">R</text>
<text x="484.21" y="317.85" font-size="7.00" textLength="3.66" lengthAdjust="spacingAndGlyphs">2</text>
<text x="488.34" y="321.85" font-size="10.30" textLength="3.10" lengthAdjust="spacingAndGlyphs">/</text>
<text x="490.87" y="321.45" font-size="10.30" font-style="italic" textLength="6.34" lengthAdjust="spacingAndGlyphs">R</text>
<text x="498.88" y="317.85" font-size="7.00" textLength="3.91" lengthAdjust="spacingAndGlyphs">2</text>
<svg x="301.5" y="180.95" width="195.0" height="126.5" overflow="hidden"><g transform="translate(-301.5,-180.95)">
<line x1="310.36" y1="230.28" x2="310.36" y2="249.26" stroke="#0000ff" stroke-opacity="0.22" stroke-width="1.35"/>
<line x1="399.00" y1="232.81" x2="399.00" y2="253.05" stroke="#0000ff" stroke-opacity="0.22" stroke-width="1.35"/>
<line x1="487.64" y1="186.01" x2="487.64" y2="254.32" stroke="#0000ff" stroke-opacity="0.22" stroke-width="1.35"/>
<line x1="310.36" y1="228.39" x2="310.36" y2="256.22" stroke="#ff0000" stroke-opacity="0.22" stroke-width="1.35"/>
<line x1="399.00" y1="230.28" x2="399.00" y2="254.95" stroke="#ff0000" stroke-opacity="0.22" stroke-width="1.35"/>
<line x1="487.64" y1="204.35" x2="487.64" y2="289.11" stroke="#ff0000" stroke-opacity="0.22" stroke-width="1.35"/>
<line x1="310.36" y1="229.65" x2="310.36" y2="248.63" stroke="#0000ff" stroke-opacity="0.58" stroke-width="1.35"/>
<line x1="399.00" y1="232.81" x2="399.00" y2="253.05" stroke="#0000ff" stroke-opacity="0.58" stroke-width="1.35"/>
<line x1="487.64" y1="191.89" x2="487.64" y2="238.70" stroke="#0000ff" stroke-opacity="0.58" stroke-width="1.35"/>
<line x1="310.36" y1="238.51" x2="310.36" y2="248.63" stroke="#ff0000" stroke-opacity="0.58" stroke-width="1.35"/>
<line x1="399.00" y1="238.51" x2="399.00" y2="248.63" stroke="#ff0000" stroke-opacity="0.58" stroke-width="1.35"/>
<line x1="487.64" y1="220.35" x2="487.64" y2="272.22" stroke="#ff0000" stroke-opacity="0.58" stroke-width="1.35"/>
<polyline points="310.36,239.77 399.00,242.94 487.64,220.16" fill="none" stroke="#0000ff" stroke-opacity="0.22" stroke-width="1.35"/>
<circle cx="310.36" cy="239.77" r="2.75" fill="#0000ff" fill-opacity="0.22"/>
<circle cx="399.00" cy="242.94" r="2.75" fill="#0000ff" fill-opacity="0.22"/>
<circle cx="487.64" cy="220.16" r="2.75" fill="#0000ff" fill-opacity="0.22"/>
<polyline points="310.36,242.30 399.00,242.62 487.64,246.73" fill="none" stroke="#ff0000" stroke-opacity="0.22" stroke-width="1.35"/>
<circle cx="310.36" cy="242.30" r="2.75" fill="#ff0000" fill-opacity="0.22"/>
<circle cx="399.00" cy="242.62" r="2.75" fill="#ff0000" fill-opacity="0.22"/>
<circle cx="487.64" cy="246.73" r="2.75" fill="#ff0000" fill-opacity="0.22"/>
<polyline points="310.36,239.14 399.00,242.94 487.64,215.29" fill="none" stroke="#0000ff" stroke-opacity="0.58" stroke-width="1.35"/>
<circle cx="310.36" cy="239.14" r="2.75" fill="#0000ff" fill-opacity="0.58"/>
<circle cx="399.00" cy="242.94" r="2.75" fill="#0000ff" fill-opacity="0.58"/>
<circle cx="487.64" cy="215.29" r="2.75" fill="#0000ff" fill-opacity="0.58"/>
<polyline points="310.36,243.57 399.00,243.57 487.64,246.29" fill="none" stroke="#ff0000" stroke-opacity="0.58" stroke-width="1.35"/>
<circle cx="310.36" cy="243.57" r="2.75" fill="#ff0000" fill-opacity="0.58"/>
<circle cx="399.00" cy="243.57" r="2.75" fill="#ff0000" fill-opacity="0.58"/>
<circle cx="487.64" cy="246.29" r="2.75" fill="#ff0000" fill-opacity="0.58"/>
</g></svg>
<line x1="309.60" y1="193.25" x2="329.00" y2="193.25" stroke="#0000ff" stroke-opacity="0.22" stroke-width="1.35"/>
<line x1="319.10" y1="188.65" x2="319.10" y2="197.85" stroke="#0000ff" stroke-opacity="0.22" stroke-width="1.35"/>
<circle cx="319.10" cy="193.25" r="2.75" fill="#0000ff" fill-opacity="0.22"/>
<text x="336.56" y="196.45" font-size="9.7" textLength="104.70" lengthAdjust="spacingAndGlyphs">WebbPSF (all samples)</text>
<line x1="309.60" y1="206.85" x2="329.00" y2="206.85" stroke="#ff0000" stroke-opacity="0.22" stroke-width="1.35"/>
<line x1="319.10" y1="202.25" x2="319.10" y2="211.45" stroke="#ff0000" stroke-opacity="0.22" stroke-width="1.35"/>
<circle cx="319.10" cy="206.85" r="2.75" fill="#ff0000" fill-opacity="0.22"/>
<text x="336.38" y="210.05" font-size="9.7" textLength="96.65" lengthAdjust="spacingAndGlyphs">HybPSF (all samples)</text>
<line x1="309.60" y1="280.35" x2="329.00" y2="280.35" stroke="#0000ff" stroke-opacity="0.58" stroke-width="1.35"/>
<line x1="319.10" y1="275.75" x2="319.10" y2="284.95" stroke="#0000ff" stroke-opacity="0.58" stroke-width="1.35"/>
<circle cx="319.10" cy="280.35" r="2.75" fill="#0000ff" fill-opacity="0.58"/>
<text x="336.56" y="283.55" font-size="9.7" textLength="97.16" lengthAdjust="spacingAndGlyphs">WebbPSF (SNR&gt;100)</text>
<line x1="309.60" y1="293.85" x2="329.00" y2="293.85" stroke="#ff0000" stroke-opacity="0.58" stroke-width="1.35"/>
<line x1="319.10" y1="289.25" x2="319.10" y2="298.45" stroke="#ff0000" stroke-opacity="0.58" stroke-width="1.35"/>
<circle cx="319.10" cy="293.85" r="2.75" fill="#ff0000" fill-opacity="0.58"/>
<text x="336.39" y="297.05" font-size="9.7" textLength="89.10" lengthAdjust="spacingAndGlyphs">HybPSF (SNR&gt;100)</text>
<rect x="301.50" y="180.95" width="195.00" height="126.50" fill="none" stroke="#000" stroke-width="0.65"/>
</g>
<g>
<text x="640.34" y="176.50" font-size="9.7" textLength="32.44" lengthAdjust="spacingAndGlyphs" style="stroke-width:0.3px">F444W</text>
<line x1="556.25" y1="180.95" x2="559.00" y2="180.95" class="tk"/>
<text x="526.98" y="184.73" font-size="9.7" textLength="26.21" lengthAdjust="spacingAndGlyphs">0.100</text>
<line x1="556.25" y1="196.76" x2="559.00" y2="196.76" class="tk"/>
<text x="526.98" y="200.54" font-size="9.7" textLength="26.04" lengthAdjust="spacingAndGlyphs">0.075</text>
<line x1="556.25" y1="212.57" x2="559.00" y2="212.57" class="tk"/>
<text x="526.98" y="216.35" font-size="9.7" textLength="26.21" lengthAdjust="spacingAndGlyphs">0.050</text>
<line x1="556.25" y1="228.39" x2="559.00" y2="228.39" class="tk"/>
<text x="526.98" y="232.17" font-size="9.7" textLength="26.04" lengthAdjust="spacingAndGlyphs">0.025</text>
<line x1="556.25" y1="244.20" x2="559.00" y2="244.20" class="tk"/>
<text x="526.98" y="247.98" font-size="9.7" textLength="26.21" lengthAdjust="spacingAndGlyphs">0.000</text>
<line x1="556.25" y1="260.01" x2="559.00" y2="260.01" class="tk"/>
<rect x="519.97" y="260.24" width="5.82" height="0.84" fill="#000"/>
<text x="526.98" y="263.79" font-size="9.7" textLength="26.04" lengthAdjust="spacingAndGlyphs">0.025</text>
<line x1="556.25" y1="275.82" x2="559.00" y2="275.82" class="tk"/>
<rect x="519.97" y="276.05" width="5.82" height="0.84" fill="#000"/>
<text x="526.98" y="279.60" font-size="9.7" textLength="26.21" lengthAdjust="spacingAndGlyphs">0.050</text>
<line x1="556.25" y1="291.64" x2="559.00" y2="291.64" class="tk"/>
<rect x="519.97" y="291.87" width="5.82" height="0.84" fill="#000"/>
<text x="526.98" y="295.42" font-size="9.7" textLength="26.04" lengthAdjust="spacingAndGlyphs">0.075</text>
<line x1="556.25" y1="307.45" x2="559.00" y2="307.45" class="tk"/>
<rect x="519.97" y="307.68" width="5.82" height="0.84" fill="#000"/>
<text x="526.98" y="311.23" font-size="9.7" textLength="26.21" lengthAdjust="spacingAndGlyphs">0.100</text>
<line x1="567.88" y1="307.45" x2="567.88" y2="310.20" class="tk"/>
<line x1="656.65" y1="307.45" x2="656.65" y2="310.20" class="tk"/>
<line x1="745.42" y1="307.45" x2="745.42" y2="310.20" class="tk"/>
<text x="559.37" y="321.05" font-size="10.30" font-style="italic" textLength="5.22" lengthAdjust="spacingAndGlyphs">δ</text>
<text x="564.63" y="321.05" font-size="10.30" font-style="italic" textLength="5.73" lengthAdjust="spacingAndGlyphs">e</text>
<text x="570.81" y="321.85" font-size="7.00" textLength="4.13" lengthAdjust="spacingAndGlyphs">1</text>
<text x="648.14" y="321.05" font-size="10.30" font-style="italic" textLength="5.22" lengthAdjust="spacingAndGlyphs">δ</text>
<text x="653.40" y="321.05" font-size="10.30" font-style="italic" textLength="5.73" lengthAdjust="spacingAndGlyphs">e</text>
<text x="659.80" y="321.85" font-size="7.00" textLength="3.91" lengthAdjust="spacingAndGlyphs">2</text>
<text x="728.92" y="321.45" font-size="10.30" font-style="italic" textLength="5.22" lengthAdjust="spacingAndGlyphs">δ</text>
<text x="734.45" y="321.45" font-size="10.30" font-style="italic" textLength="6.45" lengthAdjust="spacingAndGlyphs">R</text>
<text x="741.99" y="317.85" font-size="7.00" textLength="3.66" lengthAdjust="spacingAndGlyphs">2</text>
<text x="746.12" y="321.85" font-size="10.30" textLength="3.10" lengthAdjust="spacingAndGlyphs">/</text>
<text x="748.65" y="321.45" font-size="10.30" font-style="italic" textLength="6.34" lengthAdjust="spacingAndGlyphs">R</text>
<text x="756.67" y="317.85" font-size="7.00" textLength="3.91" lengthAdjust="spacingAndGlyphs">2</text>
<svg x="559.0" y="180.95" width="195.29999999999995" height="126.5" overflow="hidden"><g transform="translate(-559.0,-180.95)">
<line x1="567.88" y1="227.12" x2="567.88" y2="249.89" stroke="#0000ff" stroke-opacity="0.22" stroke-width="1.35"/>
<line x1="656.65" y1="233.13" x2="656.65" y2="254.64" stroke="#0000ff" stroke-opacity="0.22" stroke-width="1.35"/>
<line x1="745.42" y1="192.33" x2="745.42" y2="261.91" stroke="#0000ff" stroke-opacity="0.22" stroke-width="1.35"/>
<line x1="567.88" y1="227.12" x2="567.88" y2="258.75" stroke="#ff0000" stroke-opacity="0.22" stroke-width="1.35"/>
<line x1="656.65" y1="230.28" x2="656.65" y2="259.38" stroke="#ff0000" stroke-opacity="0.22" stroke-width="1.35"/>
<line x1="745.42" y1="209.54" x2="745.42" y2="289.23" stroke="#ff0000" stroke-opacity="0.22" stroke-width="1.35"/>
<line x1="567.88" y1="225.73" x2="567.88" y2="251.03" stroke="#0000ff" stroke-opacity="0.58" stroke-width="1.35"/>
<line x1="656.65" y1="233.13" x2="656.65" y2="254.64" stroke="#0000ff" stroke-opacity="0.58" stroke-width="1.35"/>
<line x1="745.42" y1="192.34" x2="745.42" y2="240.40" stroke="#0000ff" stroke-opacity="0.58" stroke-width="1.35"/>
<line x1="567.88" y1="237.88" x2="567.88" y2="248.00" stroke="#ff0000" stroke-opacity="0.58" stroke-width="1.35"/>
<line x1="656.65" y1="238.82" x2="656.65" y2="248.94" stroke="#ff0000" stroke-opacity="0.58" stroke-width="1.35"/>
<line x1="745.42" y1="220.48" x2="745.42" y2="264.76" stroke="#ff0000" stroke-opacity="0.58" stroke-width="1.35"/>
<polyline points="567.88,238.51 656.65,243.88 745.42,227.12" fill="none" stroke="#0000ff" stroke-opacity="0.22" stroke-width="1.35"/>
<circle cx="567.88" cy="238.51" r="2.75" fill="#0000ff" fill-opacity="0.22"/>
<circle cx="656.65" cy="243.88" r="2.75" fill="#0000ff" fill-opacity="0.22"/>
<circle cx="745.42" cy="227.12" r="2.75" fill="#0000ff" fill-opacity="0.22"/>
<polyline points="567.88,242.94 656.65,244.83 745.42,249.39" fill="none" stroke="#ff0000" stroke-opacity="0.22" stroke-width="1.35"/>
<circle cx="567.88" cy="242.94" r="2.75" fill="#ff0000" fill-opacity="0.22"/>
<circle cx="656.65" cy="244.83" r="2.75" fill="#ff0000" fill-opacity="0.22"/>
<circle cx="745.42" cy="249.39" r="2.75" fill="#ff0000" fill-opacity="0.22"/>
<polyline points="567.88,238.38 656.65,243.88 745.42,216.37" fill="none" stroke="#0000ff" stroke-opacity="0.58" stroke-width="1.35"/>
<circle cx="567.88" cy="238.38" r="2.75" fill="#0000ff" fill-opacity="0.58"/>
<circle cx="656.65" cy="243.88" r="2.75" fill="#0000ff" fill-opacity="0.58"/>
<circle cx="745.42" cy="216.37" r="2.75" fill="#0000ff" fill-opacity="0.58"/>
<polyline points="567.88,242.94 656.65,243.88 745.42,242.62" fill="none" stroke="#ff0000" stroke-opacity="0.58" stroke-width="1.35"/>
<circle cx="567.88" cy="242.94" r="2.75" fill="#ff0000" fill-opacity="0.58"/>
<circle cx="656.65" cy="243.88" r="2.75" fill="#ff0000" fill-opacity="0.58"/>
<circle cx="745.42" cy="242.62" r="2.75" fill="#ff0000" fill-opacity="0.58"/>
</g></svg>
<line x1="567.10" y1="193.25" x2="586.50" y2="193.25" stroke="#0000ff" stroke-opacity="0.22" stroke-width="1.35"/>
<line x1="576.60" y1="188.65" x2="576.60" y2="197.85" stroke="#0000ff" stroke-opacity="0.22" stroke-width="1.35"/>
<circle cx="576.60" cy="193.25" r="2.75" fill="#0000ff" fill-opacity="0.22"/>
<text x="594.06" y="196.45" font-size="9.7" textLength="104.70" lengthAdjust="spacingAndGlyphs">WebbPSF (all samples)</text>
<line x1="567.10" y1="206.85" x2="586.50" y2="206.85" stroke="#ff0000" stroke-opacity="0.22" stroke-width="1.35"/>
<line x1="576.60" y1="202.25" x2="576.60" y2="211.45" stroke="#ff0000" stroke-opacity="0.22" stroke-width="1.35"/>
<circle cx="576.60" cy="206.85" r="2.75" fill="#ff0000" fill-opacity="0.22"/>
<text x="593.88" y="210.05" font-size="9.7" textLength="96.65" lengthAdjust="spacingAndGlyphs">HybPSF (all samples)</text>
<line x1="567.10" y1="280.35" x2="586.50" y2="280.35" stroke="#0000ff" stroke-opacity="0.58" stroke-width="1.35"/>
<line x1="576.60" y1="275.75" x2="576.60" y2="284.95" stroke="#0000ff" stroke-opacity="0.58" stroke-width="1.35"/>
<circle cx="576.60" cy="280.35" r="2.75" fill="#0000ff" fill-opacity="0.58"/>
<text x="594.06" y="283.55" font-size="9.7" textLength="97.16" lengthAdjust="spacingAndGlyphs">WebbPSF (SNR&gt;100)</text>
<line x1="567.10" y1="293.85" x2="586.50" y2="293.85" stroke="#ff0000" stroke-opacity="0.58" stroke-width="1.35"/>
<line x1="576.60" y1="289.25" x2="576.60" y2="298.45" stroke="#ff0000" stroke-opacity="0.58" stroke-width="1.35"/>
<circle cx="576.60" cy="293.85" r="2.75" fill="#ff0000" fill-opacity="0.58"/>
<text x="593.89" y="297.05" font-size="9.7" textLength="89.10" lengthAdjust="spacingAndGlyphs">HybPSF (SNR&gt;100)</text>
<rect x="559.00" y="180.95" width="195.30" height="126.50" fill="none" stroke="#000" stroke-width="0.65"/>
</g>
</svg></div>
</body></html>
